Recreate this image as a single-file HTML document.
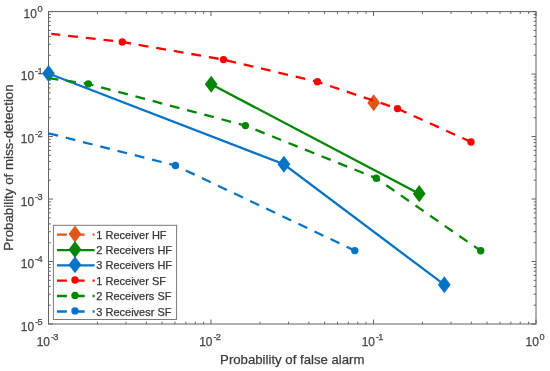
<!DOCTYPE html>
<html><head><meta charset="utf-8"><title>ROC</title>
<style>
html,body{margin:0;padding:0;background:#fff;}
svg{display:block}
text{font-family:"Liberation Sans",Arial,Helvetica,sans-serif;fill:#404040;stroke:#404040;stroke-width:0.25px}
.tk{font-size:11.95px;fill:#4a4a4a}
.sup{font-size:9.2px;fill:#4a4a4a}
.lab{font-size:13.2px;fill:#3a3a3a}
.lg{font-size:11px;fill:#303030}
</style></head><body>
<svg width="550" height="371" viewBox="0 0 550 371">
<rect width="550" height="371" fill="#fff"/>

<path d="M48.50 324.0v-4.5M48.50 11.6v4.5M97.42 324.0v-2.3M97.42 11.6v2.3M126.03 324.0v-2.3M126.03 11.6v2.3M146.33 324.0v-2.3M146.33 11.6v2.3M162.08 324.0v-2.3M162.08 11.6v2.3M174.95 324.0v-2.3M174.95 11.6v2.3M185.83 324.0v-2.3M185.83 11.6v2.3M195.25 324.0v-2.3M195.25 11.6v2.3M203.56 324.0v-2.3M203.56 11.6v2.3M211.00 324.0v-4.5M211.00 11.6v4.5M259.92 324.0v-2.3M259.92 11.6v2.3M288.53 324.0v-2.3M288.53 11.6v2.3M308.83 324.0v-2.3M308.83 11.6v2.3M324.58 324.0v-2.3M324.58 11.6v2.3M337.45 324.0v-2.3M337.45 11.6v2.3M348.33 324.0v-2.3M348.33 11.6v2.3M357.75 324.0v-2.3M357.75 11.6v2.3M366.06 324.0v-2.3M366.06 11.6v2.3M373.50 324.0v-4.5M373.50 11.6v4.5M422.42 324.0v-2.3M422.42 11.6v2.3M451.03 324.0v-2.3M451.03 11.6v2.3M471.33 324.0v-2.3M471.33 11.6v2.3M487.08 324.0v-2.3M487.08 11.6v2.3M499.95 324.0v-2.3M499.95 11.6v2.3M510.83 324.0v-2.3M510.83 11.6v2.3M520.25 324.0v-2.3M520.25 11.6v2.3M528.56 324.0v-2.3M528.56 11.6v2.3M536.00 324.0v-4.5M536.00 11.6v4.5M48.5 324.00h4.5M536.0 324.00h-4.5M48.5 305.19h2.3M536.0 305.19h-2.3M48.5 294.19h2.3M536.0 294.19h-2.3M48.5 286.38h2.3M536.0 286.38h-2.3M48.5 280.33h2.3M536.0 280.33h-2.3M48.5 275.38h2.3M536.0 275.38h-2.3M48.5 271.20h2.3M536.0 271.20h-2.3M48.5 267.57h2.3M536.0 267.57h-2.3M48.5 264.38h2.3M536.0 264.38h-2.3M48.5 261.52h4.5M536.0 261.52h-4.5M48.5 242.71h2.3M536.0 242.71h-2.3M48.5 231.71h2.3M536.0 231.71h-2.3M48.5 223.90h2.3M536.0 223.90h-2.3M48.5 217.85h2.3M536.0 217.85h-2.3M48.5 212.90h2.3M536.0 212.90h-2.3M48.5 208.72h2.3M536.0 208.72h-2.3M48.5 205.09h2.3M536.0 205.09h-2.3M48.5 201.90h2.3M536.0 201.90h-2.3M48.5 199.04h4.5M536.0 199.04h-4.5M48.5 180.23h2.3M536.0 180.23h-2.3M48.5 169.23h2.3M536.0 169.23h-2.3M48.5 161.42h2.3M536.0 161.42h-2.3M48.5 155.37h2.3M536.0 155.37h-2.3M48.5 150.42h2.3M536.0 150.42h-2.3M48.5 146.24h2.3M536.0 146.24h-2.3M48.5 142.61h2.3M536.0 142.61h-2.3M48.5 139.42h2.3M536.0 139.42h-2.3M48.5 136.56h4.5M536.0 136.56h-4.5M48.5 117.75h2.3M536.0 117.75h-2.3M48.5 106.75h2.3M536.0 106.75h-2.3M48.5 98.94h2.3M536.0 98.94h-2.3M48.5 92.89h2.3M536.0 92.89h-2.3M48.5 87.94h2.3M536.0 87.94h-2.3M48.5 83.76h2.3M536.0 83.76h-2.3M48.5 80.13h2.3M536.0 80.13h-2.3M48.5 76.94h2.3M536.0 76.94h-2.3M48.5 74.08h4.5M536.0 74.08h-4.5M48.5 55.27h2.3M536.0 55.27h-2.3M48.5 44.27h2.3M536.0 44.27h-2.3M48.5 36.46h2.3M536.0 36.46h-2.3M48.5 30.41h2.3M536.0 30.41h-2.3M48.5 25.46h2.3M536.0 25.46h-2.3M48.5 21.28h2.3M536.0 21.28h-2.3M48.5 17.65h2.3M536.0 17.65h-2.3M48.5 14.46h2.3M536.0 14.46h-2.3M48.5 11.60h4.5M536.0 11.60h-4.5" stroke="#626262" stroke-width="1" fill="none"/>
<rect x="48.5" y="11.6" width="487.5" height="312.4" fill="none" stroke="#626262" stroke-width="1"/>
<text class="tk" x="36.72" y="346">10</text><text class="sup" x="51.00" y="340" dx="0 -0.7">-3</text>
<text class="tk" x="199.22" y="346">10</text><text class="sup" x="213.50" y="340" dx="0 -0.7">-2</text>
<text class="tk" x="361.72" y="346">10</text><text class="sup" x="376.00" y="340" dx="0 -0.7">-1</text>
<text class="tk" x="525.55" y="346">10</text><text class="sup" x="539.54" y="340">0</text>
<text class="tk" x="20.83" y="331">10</text><text class="sup" x="35.12" y="325" dx="0 -0.7">-5</text>
<text class="tk" x="20.83" y="268">10</text><text class="sup" x="35.12" y="262" dx="0 -0.7">-4</text>
<text class="tk" x="20.83" y="206">10</text><text class="sup" x="35.12" y="200" dx="0 -0.7">-3</text>
<text class="tk" x="20.83" y="143">10</text><text class="sup" x="35.12" y="137" dx="0 -0.7">-2</text>
<text class="tk" x="20.83" y="80">10</text><text class="sup" x="35.12" y="74" dx="0 -0.7">-1</text>
<text class="tk" x="23.50" y="18">10</text><text class="sup" x="37.48" y="12">0</text>
<text class="lab" x="292.3" y="363.6" text-anchor="middle">Probability of false alarm</text>
<text class="lab" style="font-size:13.3px" transform="translate(13.1,167.5) rotate(-90)" text-anchor="middle">Probability of miss-detection</text>
<path d="M373.7 94.25L380.09999999999997 102.8L373.7 111.35L367.3 102.8Z" fill="#e0571a"/>
<path d="M211.2 84.3L419.2 193.7" fill="none" stroke="#048604" stroke-width="2.3"/>
<path d="M211.2 75.75L217.6 84.3L211.2 92.85L204.79999999999998 84.3Z" fill="#048604"/>
<path d="M419.2 185.1L425.59999999999997 193.65L419.2 202.20000000000002L412.8 193.65Z" fill="#048604"/>
<path d="M48.5 73.5L283.9 164.3L444.3 284.7" fill="none" stroke="#0773c6" stroke-width="2.3"/>
<path d="M48.5 64.95L54.9 73.5L48.5 82.05L42.1 73.5Z" fill="#0773c6"/>
<path d="M283.9 155.75L290.29999999999995 164.3L283.9 172.85000000000002L277.5 164.3Z" fill="#0773c6"/>
<path d="M444.3 276.15L450.7 284.7L444.3 293.25L437.90000000000003 284.7Z" fill="#0773c6"/>
<path d="M51.2 33.9L122.3 42.0L223.5 59.6L317.4 81.8L397.5 108.6L471.0 142.0" fill="none" stroke="#ff0000" stroke-width="2.3" stroke-dasharray="9.9 7.9" stroke-dashoffset="0.8"/>
<circle cx="122.3" cy="42" r="3.7" fill="#ff0000"/>
<circle cx="223.5" cy="59.6" r="3.7" fill="#ff0000"/>
<circle cx="317.4" cy="81.8" r="3.7" fill="#ff0000"/>
<circle cx="397.5" cy="108.6" r="3.7" fill="#ff0000"/>
<circle cx="471.0" cy="142" r="3.7" fill="#ff0000"/>
<path d="M48.5 78.2L88.3 83.9L245.4 125.6L376.3 178.3L480.7 250.8" fill="none" stroke="#048604" stroke-width="2.3" stroke-dasharray="9.9 7.9" stroke-dashoffset="0"/>
<circle cx="88.3" cy="83.9" r="3.7" fill="#048604"/>
<circle cx="245.4" cy="125.6" r="3.7" fill="#048604"/>
<circle cx="376.3" cy="178.3" r="3.7" fill="#048604"/>
<circle cx="480.7" cy="250.8" r="3.7" fill="#048604"/>
<path d="M48.5 133.3L175.4 165.5L354.8 250.6" fill="none" stroke="#0773c6" stroke-width="2.3" stroke-dasharray="9.9 7.9" stroke-dashoffset="0"/>
<circle cx="175.4" cy="165.5" r="3.7" fill="#0773c6"/>
<circle cx="354.8" cy="250.6" r="3.7" fill="#0773c6"/>
<rect x="53.4" y="225.3" width="123.2" height="94.2" fill="#fff" stroke="#7a7a7a" stroke-width="1"/>
<path d="M57.0 234.6L94.6 234.6" fill="none" stroke="#e0571a" stroke-width="2.3" stroke-dasharray="9.9 7.9" stroke-dashoffset="0"/>
<path d="M75 225.45L81.4 234.0L75 242.55L68.6 234.0Z" fill="#e0571a"/>
<text class="lg" x="96.3" y="238.7">1 Receiver HF</text>
<path d="M57.0 250.1L94.6 250.1" fill="none" stroke="#048604" stroke-width="2.3"/>
<path d="M75 240.95L81.4 249.5L75 258.05L68.6 249.5Z" fill="#048604"/>
<text class="lg" x="96.3" y="254.2">2 Receivers HF</text>
<path d="M57.0 265.3L94.6 265.3" fill="none" stroke="#0773c6" stroke-width="2.3"/>
<path d="M75 256.15L81.4 264.7L75 273.25L68.6 264.7Z" fill="#0773c6"/>
<text class="lg" x="96.3" y="269.4">3 Receivers HF</text>
<path d="M57.0 280.6L94.6 280.6" fill="none" stroke="#ff0000" stroke-width="2.3" stroke-dasharray="9.9 7.9" stroke-dashoffset="0"/>
<circle cx="75" cy="280.0" r="3.7" fill="#ff0000"/>
<text class="lg" x="96.3" y="284.7">1 Receiver SF</text>
<path d="M57.0 296.0L94.6 296.0" fill="none" stroke="#048604" stroke-width="2.3" stroke-dasharray="9.9 7.9" stroke-dashoffset="0"/>
<circle cx="75" cy="295.4" r="3.7" fill="#048604"/>
<text class="lg" x="96.3" y="300.1">2 Receivers SF</text>
<path d="M57.0 311.5L94.6 311.5" fill="none" stroke="#0773c6" stroke-width="2.3" stroke-dasharray="9.9 7.9" stroke-dashoffset="0"/>
<circle cx="75" cy="310.9" r="3.7" fill="#0773c6"/>
<text class="lg" x="96.3" y="315.6">3 Receivesr SF</text>
</svg></body></html>
